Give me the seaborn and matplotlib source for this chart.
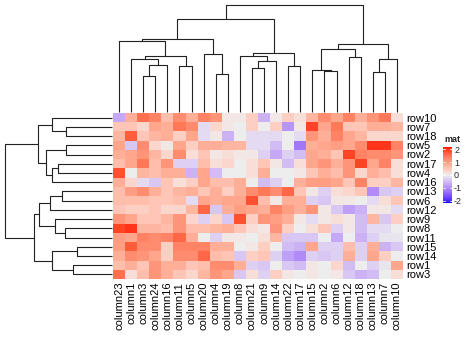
import numpy as np
import pandas as pd
import matplotlib
matplotlib.use("Agg")
import matplotlib.pyplot as plt
from matplotlib.colors import ListedColormap
import seaborn as sns

# ---------------- data (display order) ----------------
row_labels = ["row10", "row7", "row18", "row5", "row2", "row17", "row4", "row16", "row13",
              "row6", "row12", "row9", "row8", "row11", "row15", "row14", "row1", "row3"]
col_labels = ["column23", "column1", "column3", "column24", "column16", "column11", "column5",
              "column20", "column4", "column19", "column8", "column21", "column9", "column14",
              "column22", "column17", "column15", "column2", "column6", "column12", "column18",
              "column13", "column7", "column10"]

v_row10 = [-0.7, 0.8, 1.5, 1.3, 0.6, 1.2, 0.8, 1.3, 1.1, 0.1, 0.1, 0.4, -0.6, 0.1, 0.4, 0.2, 0.7, 1.2, 0.9, 1.3, 0.8, 1.1, 1.4, 0.2]
v_row7 = [0.5, 0.5, 0.3, 0.9, 0.8, 1.4, 1.2, -0.2, 0.3, 0.1, 0.0, 0.4, 0.0, 0.4, -0.9, 0.1, 1.9, 0.9, 1.4, 0.5, 0.5, 0.8, 0.8, 0.7]
v_row18 = [0.7, 1.7, 0.5, 0.7, 0.8, 0.4, 0.9, -0.2, 0.1, -0.6, 0.0, -0.2, -0.2, -0.2, 0.0, -0.2, 1.1, 0.8, 1.3, 0.9, 0.7, 0.3, 0.3, 0.3]
v_row5 = [0.9, -0.4, 1.2, 0.3, 0.1, 0.9, 0.4, 0.8, 0.8, 0.7, 0.7, -0.2, -0.2, -0.5, 0.0, -1.2, 0.8, 0.9, 1.0, 0.9, 1.2, 2.0, 2.0, 1.3]
v_row2 = [0.8, 0.9, 1.1, 0.7, 0.3, 1.2, 0.2, 0.5, 0.1, 0.2, 0.1, 0.1, -0.3, -0.7, -0.3, -0.5, 0.9, 0.8, 0.5, 1.9, 1.3, 1.2, 1.2, 1.1]
v_row17 = [0.6, 0.9, 1.4, 0.6, 1.1, -0.3, -0.3, 0.6, 0.2, 0.3, 0.0, 0.2, 0.5, 0.1, -0.5, 0.2, 0.9, 1.1, 0.8, 1.1, 1.9, 0.9, 1.3, 0.2]
v_row4 = [1.8, 0.0, 0.7, 0.6, 0.8, 0.8, -0.6, 0.9, -0.5, 0.0, 0.0, 0.2, 0.8, 0.0, 0.0, 0.1, 0.5, 0.8, 0.6, 1.1, 0.3, 0.8, 0.6, 0.2]
v_row16 = [0.8, 0.3, -0.2, -0.4, 0.5, 0.2, 0.4, 0.9, 0.6, 0.6, 0.8, 0.0, -0.5, -0.3, 0.0, 0.8, 1.0, 1.0, 0.9, 0.5, 1.3, 0.4, 0.4, 0.7]
v_row13 = [0.6, 1.0, 1.2, 0.8, 0.5, 0.7, 0.8, 0.5, 0.8, 0.4, 0.8, 1.2, 1.4, 1.2, 1.6, 0.5, 0.1, -0.3, 0.2, 0.3, 0.5, -1.0, -0.4, -0.3]
v_row6 = [0.6, 0.6, 0.6, 0.5, 0.5, 0.6, -0.2, 0.9, 0.8, 0.9, 0.9, 1.8, 0.6, 0.1, 0.8, 0.8, -0.3, -0.4, 0.1, 0.1, 0.0, -0.2, 0.2, 0.5]
v_row12 = [0.5, 0.4, 0.4, 0.5, 0.3, 0.3, 0.7, 1.6, -0.4, 0.8, 1.0, 0.9, 0.8, 1.3, 1.0, 0.8, 1.1, 0.1, -0.4, -0.8, -0.6, 0.1, 0.1, -0.2]
v_row9 = [1.1, 0.9, 0.5, 0.5, 0.7, 1.1, 0.3, -0.3, 0.3, -0.4, 1.8, 0.4, 1.1, 1.0, 0.8, 0.1, -0.2, 0.1, 0.2, 0.1, -0.5, 0.7, -0.4, 0.4]
v_row8 = [1.9, 2.0, 0.7, 0.7, 0.6, 1.1, 0.6, 0.6, 0.7, 0.8, 0.5, 0.2, 0.1, 1.1, 0.4, 0.0, 0.2, 0.5, -0.3, 0.1, -0.5, -0.2, -0.2, 0.0]
v_row11 = [1.0, 0.9, 1.3, 1.2, 1.3, 1.6, 0.8, 0.0, -0.3, 0.1, 0.1, 0.0, 0.2, 0.7, -0.4, -0.4, -0.4, 0.0, -0.7, 0.0, -0.6, -0.3, -0.1, -0.1]
v_row15 = [1.0, 1.7, 1.2, 1.2, 0.4, 1.3, 1.3, 1.3, 0.8, 0.8, 0.0, 0.1, 0.4, 0.0, -0.5, -0.6, 0.9, -0.3, -0.3, 0.6, -0.3, 0.8, -0.6, -0.4]
v_row14 = [0.8, 1.2, 1.1, 0.9, 0.4, 1.2, 1.2, 1.6, 0.6, 0.5, -0.4, 0.4, 0.5, -0.3, -0.8, -1.0, -0.3, -0.4, -0.3, 0.8, -0.3, 0.9, 0.4, 0.0]
v_row1 = [0.6, 0.8, 0.5, 1.1, 0.8, 0.8, 0.5, 0.6, 1.2, 1.2, 0.8, -0.3, -0.4, 0.0, -0.4, -0.5, 0.1, 0.0, 0.3, -0.5, 0.0, -0.3, -0.1, 0.9]
v_row3 = [1.5, 0.2, 0.6, 1.1, 0.8, 0.5, 0.3, 0.7, 1.1, 0.9, -0.4, 0.2, -0.3, 0.4, 0.1, 0.0, 0.1, 0.0, 0.1, -0.4, -0.6, -0.5, 0.0, 0.2]

# dendrogram merges: (left, right, height); ints refer to earlier merges
row_tree = [
    ("row7", "row18", 138), ("row10", 0, 178), ("row5", "row2", 138),
    ("row17", "row4", 162), (3, "row16", 180), (2, 4, 198), (1, 5, 220),
    ("row13", "row6", 150), (7, "row12", 186), ("row8", "row11", 142),
    ("row9", 9, 170), (8, 10, 218), ("row15", "row14", 104), ("row1", "row3", 118),
    (12, 13, 180), (11, 14, 232), (6, 15, 320),
]
col_tree = [
    ("column3", "column24", 109), (0, "column16", 142), ("column1", 1, 159),
    ("column11", "column5", 139), (2, 3, 171), ("column23", 4, 216),
    ("column4", "column19", 116), ("column20", 6, 176), (5, 7, 221),
    ("column21", "column9", 132), (9, "column14", 154), ("column8", 10, 169),
    ("column22", "column17", 139), (11, 12, 179), (8, 13, 282),
    ("column2", "column6", 124), ("column15", 15, 126), ("column12", "column18", 166),
    (16, 17, 191), ("column13", "column7", 122), (19, "column10", 161),
    (18, 20, 206), (14, 21, 324),
]

legend_ticks = [-2, -1, 0, 1, 2]
vlim = 2.18

# ---------------- colour map: blue - #EEEEEE - red, interpolated in LAB ----------------
_M = np.array([[0.4124564, 0.3575761, 0.1804375],
               [0.2126729, 0.7151522, 0.0721750],
               [0.0193339, 0.1191920, 0.9503041]])
_WP = np.array([0.95047, 1.0, 1.08883])


def srgb_to_lab(rgb):
    rgb = np.asarray(rgb, float)
    lin = np.where(rgb <= 0.04045, rgb / 12.92, ((rgb + 0.055) / 1.055) ** 2.4)
    t = (lin @ _M.T) / _WP
    d = 6 / 29
    f = np.where(t > d ** 3, np.cbrt(t), t / (3 * d * d) + 4 / 29)
    return np.stack([116 * f[..., 1] - 16, 500 * (f[..., 0] - f[..., 1]),
                     200 * (f[..., 1] - f[..., 2])], -1)


def lab_to_srgb(lab):
    lab = np.asarray(lab, float)
    fy = (lab[..., 0] + 16) / 116
    fx = fy + lab[..., 1] / 500
    fz = fy - lab[..., 2] / 200
    f = np.stack([fx, fy, fz], -1)
    d = 6 / 29
    t = np.where(f > d, f ** 3, 3 * d * d * (f - 4 / 29)) * _WP
    lin = t @ np.linalg.inv(_M).T
    lin = np.clip(lin, 0, 1)
    rgb = np.where(lin <= 0.0031308, 12.92 * lin, 1.055 * lin ** (1 / 2.4) - 0.055)
    return np.clip(rgb, 0, 1)


lab_blue = srgb_to_lab([0, 0, 1])
lab_mid = srgb_to_lab([0xEE / 255] * 3)
lab_red = srgb_to_lab([1, 0, 0])
s = np.linspace(-1, 1, 256)[:, None]
labs = np.where(s < 0, lab_mid + (lab_mid - lab_blue) * s, lab_mid + (lab_red - lab_mid) * s)
cmap = ListedColormap(lab_to_srgb(labs))

# ---------------- figure ----------------
sns.set_style("white")
plt.rcParams["font.family"] = ["Liberation Sans", "DejaVu Sans"]
plt.rcParams["axes.unicode_minus"] = False

W, H = 474, 338
fig = plt.figure(figsize=(W / 100, H / 100), dpi=100)


def box(x0, y0, x1, y1):
    return [x0 / W, 1 - y1 / H, (x1 - x0) / W, (y1 - y0) / H]


hx0, hy0, hx1, hy1 = 113, 113, 403, 279
ax = fig.add_axes(box(hx0, hy0, hx1, hy1))
ax_rd = fig.add_axes(box(5, hy0, 112, hy1))
ax_cd = fig.add_axes(box(hx0, 5, hx1, 112))
cax = fig.add_axes(box(443, 146.7, 452, 203.3))

mat = pd.DataFrame([v_row10, v_row7, v_row18, v_row5, v_row2, v_row17, v_row4, v_row16,
                    v_row13, v_row6, v_row12, v_row9, v_row8, v_row11, v_row15, v_row14,
                    v_row1, v_row3], index=row_labels, columns=col_labels)

sns.heatmap(mat, ax=ax, cmap=cmap, vmin=-vlim, vmax=vlim, cbar=False,
            xticklabels=True, yticklabels=True, linewidths=0)
ax.yaxis.tick_right()
ax.tick_params(axis="both", length=0, labelsize=8, colors="black")
ax.tick_params(axis="y", pad=2, labelrotation=0)
ax.tick_params(axis="x", pad=2, labelrotation=90)
ax.set_xlabel("")
ax.set_ylabel("")


def draw_dendro(dax, tree, order, orient):
    pos = {name: i + 0.5 for i, name in enumerate(order)}
    nodes = []

    def get(ref):
        if isinstance(ref, int):
            return nodes[ref]
        return (pos[ref], 0.0)

    for a, b, h in tree:
        pa, ha = get(a)
        pb, hb = get(b)
        xs = [pa, pa, pb, pb]
        ys = [ha, h, h, hb]
        if orient == "top":
            dax.plot(xs, ys, color="#222222", lw=0.8, clip_on=False, solid_capstyle="butt")
        else:
            dax.plot(ys, xs, color="#222222", lw=0.8, clip_on=False, solid_capstyle="butt")
        nodes.append(((pa + pb) / 2, h))


draw_dendro(ax_cd, col_tree, col_labels, "top")
ax_cd.set_xlim(0, len(col_labels))
ax_cd.set_ylim(0, col_tree[-1][2])
draw_dendro(ax_rd, row_tree, row_labels, "left")
ax_rd.set_ylim(len(row_labels), 0)
ax_rd.set_xlim(row_tree[-1][2], 0)
for a in (ax_cd, ax_rd):
    a.set_axis_off()

cb = fig.colorbar(ax.collections[0], cax=cax)
cb.outline.set_visible(False)
cb.set_ticks(legend_ticks)
cb.ax.tick_params(length=0, labelsize=6.5, pad=1.5)
for t in legend_ticks:
    cax.plot([0, 0.22], [t, t], color="white", lw=0.6)
    cax.plot([0.78, 1], [t, t], color="white", lw=0.6)
cax.set_xlim(0, 1)
fig.text(444 / W, 1 - 140 / H, "mat", fontsize=6.5, fontweight="bold", ha="left", va="center")

fig.savefig("out.png", dpi=100)
